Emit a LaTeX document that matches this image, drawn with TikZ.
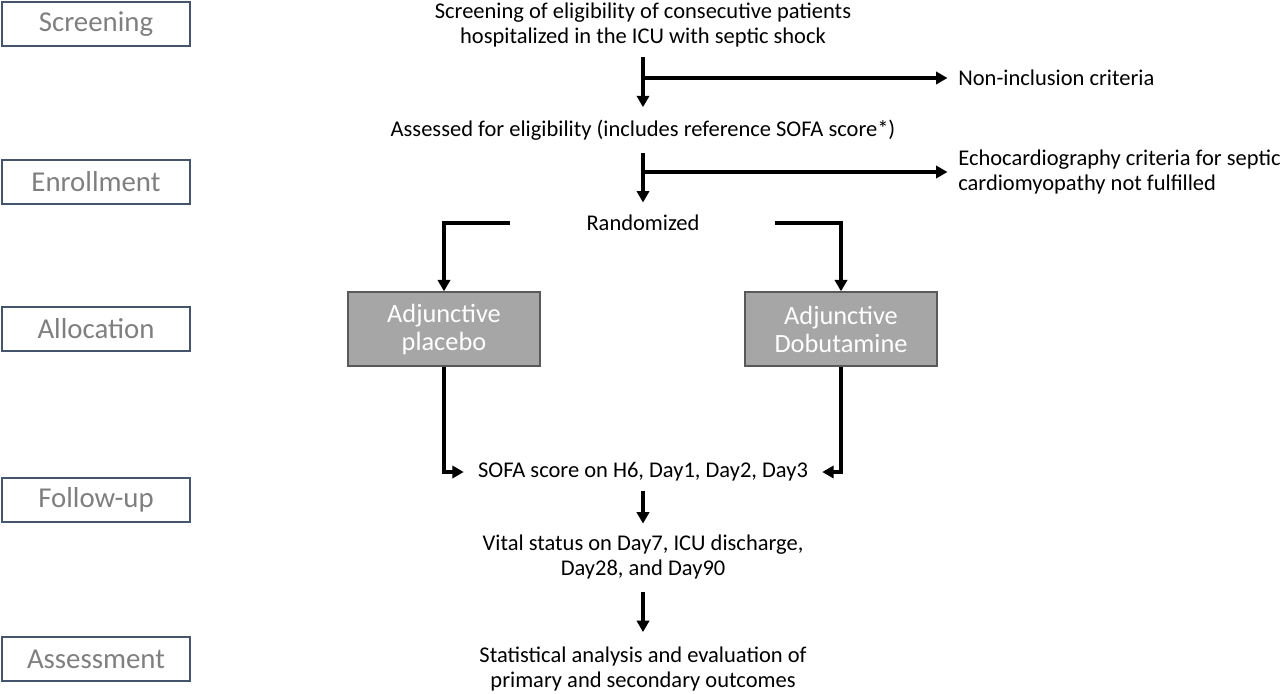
\documentclass[tikz,border=0pt]{standalone}
\usepackage{fontspec}
\setmainfont{Carlito}
\usetikzlibrary{arrows.meta}
\definecolor{stageborder}{HTML}{44546A}
\definecolor{stagetext}{HTML}{7F7F7F}
\definecolor{armfill}{HTML}{A6A6A6}
\definecolor{armborder}{HTML}{595959}

\begin{document}
\begin{tikzpicture}
[x=0.02cm,y=-0.02cm,
  stagedecorate/.style={draw=stageborder,line width=0.8pt,text=stagetext,
    minimum width=3.76cm,minimum height=0.88cm,inner sep=0pt,
    font=\fontsize{16.4}{18}\selectfont},%
  armdecorate/.style={draw=armborder,line width=0.8pt,fill=armfill,text=white,
    minimum width=3.84cm,minimum height=1.48cm,inner sep=0pt,align=center,
    font=\fontsize{15}{15.9}\selectfont},%
  stepdecorate/.style={inner sep=0pt,align=center,
    font=\fontsize{12.8}{14.7}\selectfont},%
  arrowdecorate/.style={-{Triangle[length=6.5pt,width=7pt]},line width=1.9pt}]
%%
%% Bounding box
\useasboundingbox (0,0) rectangle (1280,693);
%%
%% Stages on the left
\foreach \nodename/\y/\label in {
  screen/24/Screening, enrol/182/Enrollment, alloc/329/Allocation,
  follow/500/Follow-up, assess/659/Assessment}
{
  \node (\nodename) at (96,\y) [stagedecorate] {\label};
}
%%
%% Flow steps
\node (patients) at (643,25) [stepdecorate]
  {Screening of eligibility of consecutive patients\\hospitalized in the ICU with septic shock};
\node (eligible) at (643,130) [stepdecorate]
  {Assessed for eligibility (includes reference SOFA score*)};
\node (noninc) at (958,78) [stepdecorate,anchor=west] {Non-inclusion criteria};
\node (echo) at (958,172) [stepdecorate,anchor=west,align=left]
  {Echocardiography criteria for septic\\cardiomyopathy not fulfilled};
\node (random) at (643,223) [stepdecorate] {Randomized};
\node (placebo) at (444,329) [armdecorate] {Adjunctive\\placebo};
\node (dobut) at (841,329) [armdecorate] {Adjunctive\\Dobutamine};
\node (sofa) at (643,472) [stepdecorate] {SOFA score on H6, Day1, Day2, Day3};
\node (vital) at (643,557) [stepdecorate]
  {Vital status on Day7, ICU discharge,\\Day28, and Day90};
\node (stats) at (643,669) [stepdecorate]
  {Statistical analysis and evaluation of\\primary and secondary outcomes};
%%
%% Branch points
\coordinate (b1) at (patients.south |- noninc.west);
\coordinate (b2) at (eligible.south |- echo.west);
%%
%% Connectors
\draw[arrowdecorate,shorten <=5pt,shorten >=7pt] (patients.south) -- (eligible.north);
\draw[arrowdecorate,shorten >=6pt] ([xshift=-0.95pt]b1) -- (noninc.west);
\draw[arrowdecorate,shorten <=7pt,shorten >=7pt] (eligible.south) -- (random.north);
\draw[arrowdecorate,shorten >=6pt] ([xshift=-0.95pt]b2) -- (echo.west);
\draw[arrowdecorate] ([xshift=-1.52cm]random.west) -| (placebo.north);
\draw[arrowdecorate] ([xshift=1.50cm]random.east) -| (dobut.north);
\draw[arrowdecorate,shorten >=8pt] (placebo.south) |- (sofa.west);
\draw[arrowdecorate,shorten >=8pt] (dobut.south) |- (sofa.east);
\draw[arrowdecorate,shorten <=5pt,shorten >=6pt] (sofa.south) -- (vital.north);
\draw[arrowdecorate,shorten <=7pt,shorten >=8pt] (vital.south) -- (stats.north);
\end{tikzpicture}
\end{document}
